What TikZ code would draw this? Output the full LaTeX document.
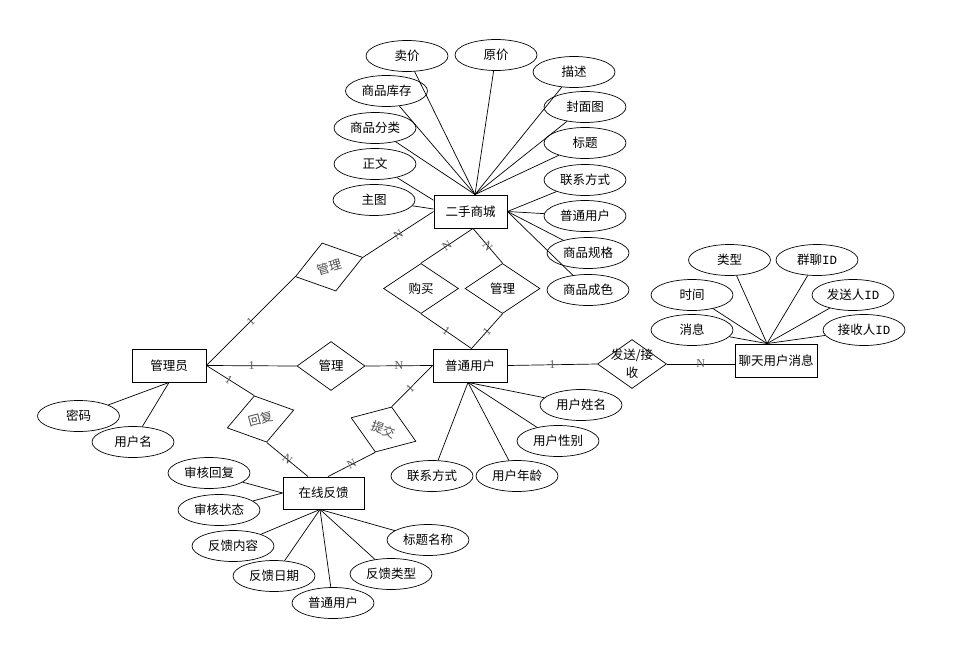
\documentclass[tikz,border=0pt]{standalone}
\usepackage{fontspec}
\setmainfont{Liberation Serif}
\newfontfamily\cjk{Noto Sans CJK SC}
\newfontfamily\mono{Liberation Mono}
\usetikzlibrary{shapes.geometric}
\begin{document}
\begin{tikzpicture}[x=1pt,y=-1pt,
  txt/.style={font=\cjk\fontsize{12.5}{15}\selectfont},
  ent/.style={txt, draw, line width=0.9pt, minimum width=73pt, minimum height=33pt, inner sep=0pt},
  attr/.style={txt, draw, ellipse, line width=0.7pt, minimum width=82pt, minimum height=31pt, inner sep=0pt},
  rel/.style={txt, draw, diamond, line width=0.7pt, minimum width=75pt, minimum height=50pt, inner sep=0pt},
  ln/.style={line width=0.7pt},
  card/.style={font=\fontsize{12}{12}\selectfont, text=black!65, inner sep=0.5pt, sloped}
]
\useasboundingbox (0,0) rectangle (976,648);
\fill[white] (0,0) rectangle (976,648);

% entities
\node[ent] (e1) at (470.5,211.5) {二手商城};
\node[ent, minimum width=74pt] (e2) at (169,365.5) {管理员};
\node[ent, minimum width=74pt] (e3) at (470,365.5) {普通用户};
\node[ent, minimum width=82pt] (e4) at (776,360.5) {聊天用户消息};
\node[ent, minimum width=81pt, minimum height=32pt] (e5) at (323.5,493) {在线反馈};

% relationships
\node[rel, rotate=16, minimum width=70pt, minimum height=50pt, text=black!70] (r1) at (329,267) {管理};
\node[rel] (r2) at (421,288.5) {购买};
\node[rel] (r3) at (502.5,288.5) {管理};
\node[rel, minimum width=68pt, minimum height=49pt] (r4) at (331,366) {管理};
\node[rel, minimum width=69pt, minimum height=49pt,
  label={[txt, font=\cjk\fontsize{12.5}{18}\selectfont, align=center]center:发送/接\\收}] (r5) at (632,364) {};
\node[rel, rotate=15, minimum width=69pt, minimum height=48pt, text=black!70] (r6) at (260.5,419) {回复};
\node[rel, rotate=-20, minimum width=69pt, minimum height=48pt, text=black!70] (r7) at (383.5,429.5) {提交};

% attributes of 二手商城
\node[attr] (a1) at (407,56) {卖价};
\node[attr] (a2) at (496,55) {原价};
\node[attr] (a3) at (574,72) {描述};
\node[attr] (a4) at (386.5,91) {商品库存};
\node[attr] (a5) at (585,107) {封面图};
\node[attr] (a6) at (375,128) {商品分类};
\node[attr] (a7) at (585,143) {标题};
\node[attr] (a8) at (375,164) {正文};
\node[attr] (a9) at (585,180) {联系方式};
\node[attr] (a10) at (374,200) {主图};
\node[attr] (a11) at (585,216) {普通用户};
\node[attr] (a12) at (588,253) {商品规格};
\node[attr] (a13) at (588,290) {商品成色};

% attributes of 普通用户
\node[attr] (b1) at (581,405) {用户姓名};
\node[attr] (b2) at (558,441) {用户性别};
\node[attr] (b3) at (432,476) {联系方式};
\node[attr] (b4) at (517,476) {用户年龄};

% attributes of 聊天用户消息
\node[attr] (c1) at (729.5,260) {类型};
\node[attr] (c2) at (817,260) {群聊{\mono ID}};
\node[attr] (c3) at (692,295) {时间};
\node[attr] (c4) at (853,295) {发送人{\mono ID}};
\node[attr] (c5) at (692,330) {消息};
\node[attr] (c6) at (864,330) {接收人{\mono ID}};

% attributes of 管理员
\node[attr] (d1) at (78.5,416) {密码};
\node[attr] (d2) at (133,442) {用户名};

% attributes of 在线反馈
\node[attr] (f1) at (209,473) {审核回复};
\node[attr] (f2) at (219,510) {审核状态};
\node[attr] (f3) at (233,546) {反馈内容};
\node[attr] (f4) at (274,576) {反馈日期};
\node[attr] (f5) at (333,603) {普通用户};
\node[attr] (f6) at (391,574) {反馈类型};
\node[attr] (f7) at (428,540) {标题名称};

% attachment points
\coordinate (e1t) at ([xshift=4.5pt]e1.north);
\coordinate (e1w1) at ([yshift=-5.7pt]e1.north west);
\coordinate (e1w2) at ([yshift=2.5pt]e1.west);
\coordinate (e1b) at ([xshift=2.5pt]e1.south);
\coordinate (e3b) at ([xshift=-2pt]e3.south);
\coordinate (e3t) at ([xshift=1.5pt]e3.north);
\coordinate (e4t) at ([xshift=-9pt]e4.north);
\coordinate (e5t1) at ([xshift=-15.5pt]e5.north);
\coordinate (e5t2) at ([xshift=4.5pt]e5.north);
\coordinate (e5b) at ([xshift=-3.5pt]e5.south);

% attribute lines
\foreach \a in {a1,a2,a3,a4,a5,a6,a7} \draw[ln] (\a) -- (e1t);
\draw[ln] (a8) -- (e1w1);
\draw[ln] (a10) -- (e1w2);
\foreach \a in {a9,a11,a12,a13} \draw[ln] (\a) -- (e1.east);
\foreach \a in {b1,b2,b3,b4} \draw[ln] (\a) -- (e3b);
\foreach \a in {c1,c2,c3,c4,c5,c6} \draw[ln] (\a) -- (e4t);
\foreach \a in {d1,d2} \draw[ln] (\a) -- (e2.south);
\foreach \a in {f1,f2} \draw[ln] (\a) -- (e5.west);
\foreach \a in {f3,f4,f5,f6,f7} \draw[ln] (\a) -- (e5b);

% relationship lines
\draw[ln] (e1.west) -- node[card]{N} (r1.east);
\draw[ln] (r1.west) -- node[card]{1} (e2.east);
\draw[ln] (e2.east) -- node[card]{1} (r4.west);
\draw[ln] (r4.east) -- node[card]{N} (e3.west);
\draw[ln] (e2.east) -- node[card, pos=0.47]{1} (r6.north);
\draw[ln] (r6.south) -- node[card]{N} (e5t1);
\draw[ln] (e5t2) -- node[card]{N} (r7.south);
\draw[ln] (r7.north) -- node[card, pos=0.45]{1} (e3.west);
\draw[ln] (e1b) -- node[card]{N} (r2.north);
\draw[ln] (e1b) -- node[card]{N} (r3.north);
\draw[ln] (r2.south) -- node[card]{1} (e3t);
\draw[ln] (r3.south) -- node[card]{1} (e3t);
\draw[ln] (e3.east) -- node[card]{1} (r5.west);
\draw[ln] (r5.east) -- node[card]{N} (r5.east -| e4.west);
\end{tikzpicture}
\end{document}
